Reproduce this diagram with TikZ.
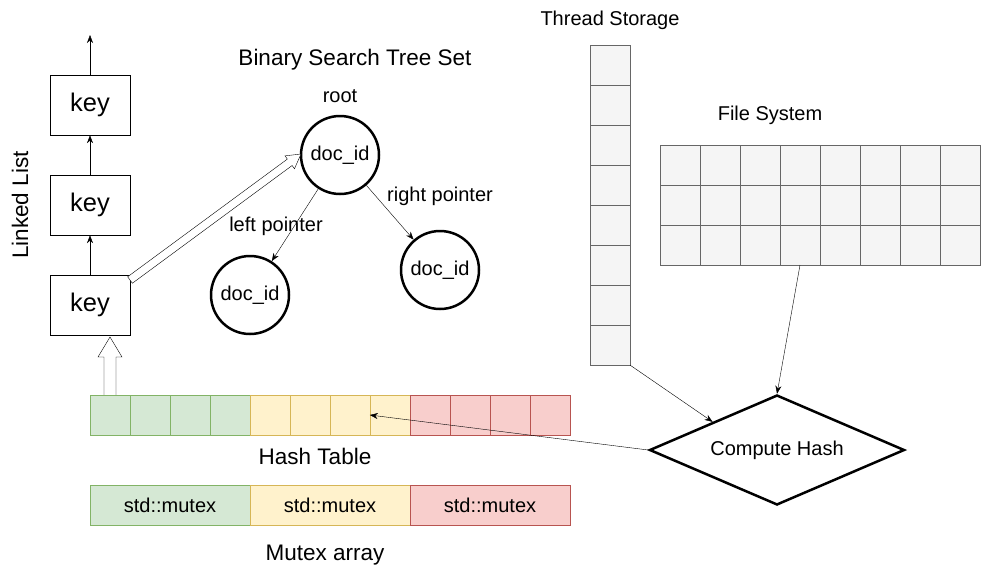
\documentclass[tikz,border=0pt]{standalone}
\usepackage{fontspec}
\setmainfont{Liberation Sans}
\usetikzlibrary{calc,arrows.meta,shapes.geometric}
\definecolor{gF}{HTML}{D5E8D4}\definecolor{gS}{HTML}{82B366}
\definecolor{yF}{HTML}{FFF2CC}\definecolor{yS}{HTML}{D6B656}
\definecolor{rF}{HTML}{F8CECC}\definecolor{rS}{HTML}{B85450}
\definecolor{sF}{HTML}{F5F5F5}\definecolor{sS}{HTML}{666666}
\begin{document}
\begin{tikzpicture}[x=1pt,y=-1pt,
  box/.style={draw,minimum width=80pt,minimum height=60pt,inner sep=0,font=\fontsize{25.5}{29}\selectfont},
  circ/.style={draw,circle,line width=2.5pt,minimum size=78pt,inner sep=0,font=\fontsize{20}{23}\selectfont},
  lbl/.style={font=\fontsize{22.5}{26}\selectfont},
  slbl/.style={font=\fontsize{20}{23}\selectfont},
  cell/.style={draw,minimum width=40pt,minimum height=40pt,inner sep=0},
  arr/.style={-{Stealth[length=8pt,width=6pt]}},
  mut/.style={draw,minimum width=160pt,minimum height=40pt,inner sep=0,font=\fontsize{20}{23}\selectfont}]
\useasboundingbox (0,0) rectangle (981,576);
% linked list
\node[box] (k1) at (90,105) {key};
\node[box] (k2) at (90,205) {key};
\node[box] (k3) at (90,305) {key};
\coordinate (top) at (90,35);
\draw[arr] (k1.north) -- (top);
\draw[arr] (k2.north) -- (k1.south);
\draw[arr] (k3.north) -- (k2.south);
\node[lbl,rotate=90] (ll) at (20,205) {Linked List};
% BST
\node[lbl] (bt) at (355,60) {Binary Search Tree Set};
\node[slbl] (rl) at (340,96) {root};
\node[circ] (root) at (340,155) {doc\_id};
\node[circ] (left) at (250,295) {doc\_id};
\node[circ] (right) at (440,270) {doc\_id};
\draw[arr] (root) -- (left);
\draw[arr] (root) -- (right);
\node[slbl] (lp) at (276,226) {left pointer};
\node[slbl] (rp) at (440,196) {right pointer};
% hollow arrows
\coordinate (a1) at (130,280); \coordinate (b1) at (301,154);
\coordinate (h1) at ($(b1)!14pt!(a1)$);
\draw[fill=white] ($(a1)!4pt!90:(b1)$) -- ($(h1)!4pt!90:(b1)$) -- ($(h1)!8pt!90:(b1)$) -- (b1) -- ($(h1)!8pt!-90:(b1)$) -- ($(h1)!4pt!-90:(b1)$) -- ($(a1)!4pt!-90:(b1)$) -- cycle;
\coordinate (a2) at (110,413); \coordinate (b2) at (110,337);
\coordinate (h2) at ($(b2)!20pt!(a2)$);
\draw[fill=white] ($(a2)!6pt!90:(b2)$) -- ($(h2)!6pt!90:(b2)$) -- ($(h2)!12pt!90:(b2)$) -- (b2) -- ($(h2)!12pt!-90:(b2)$) -- ($(h2)!6pt!-90:(b2)$) -- ($(a2)!6pt!-90:(b2)$) -- cycle;
% hash table
\foreach \i in {0,...,3} \node[cell,fill=gF,draw=gS] (hg\i) at (110+40*\i,415) {};
\foreach \i in {0,...,3} \node[cell,fill=yF,draw=yS] (hy\i) at (270+40*\i,415) {};
\foreach \i in {0,...,3} \node[cell,fill=rF,draw=rS] (hr\i) at (430+40*\i,415) {};
\node[lbl] (ht) at (315,456) {Hash Table};
\node[mut,fill=gF,draw=gS] (m1) at (170,505) {std::mutex};
\node[mut,fill=yF,draw=yS] (m2) at (330,505) {std::mutex};
\node[mut,fill=rF,draw=rS] (m3) at (490,505) {std::mutex};
\node[lbl] (ma) at (325,555) {Mutex array};
% thread storage
\node[slbl] (tsl) at (610,20) {Thread Storage};
\foreach \i in {0,...,7} \node[cell,fill=sF,draw=sS] (ts\i) at (610,65+40*\i) {};
% file system
\node[slbl] (fsl) at (770,115) {File System};
\foreach \r in {0,1,2} \foreach \c in {0,...,7} \node[cell,fill=sF,draw=sS] (fs\r\c) at (680+40*\c,165+40*\r) {};
% compute hash
\node[draw,diamond,aspect=2.3,line width=2.5pt,minimum width=255pt,minimum height=110pt,inner sep=0,font=\fontsize{20}{23}\selectfont] (ch) at (777,450) {Compute Hash};
\coordinate (fsb) at (800,265);
\draw[arr] (ts7.south east) -- (ch.north west);
\draw[arr] (fsb) -- (ch.north);
\draw[arr] (ch.west) -- (hy3.west);
\end{tikzpicture}
\end{document}
